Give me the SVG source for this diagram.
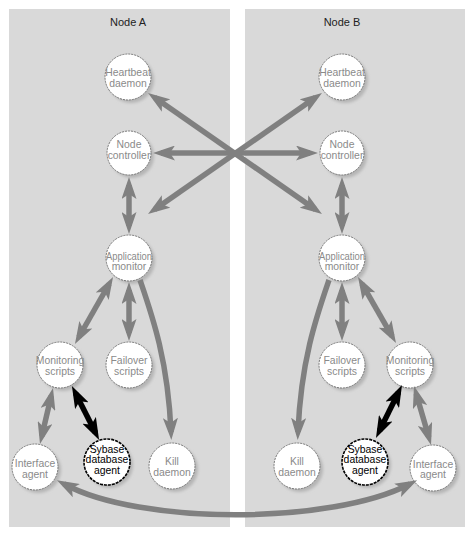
<svg xmlns="http://www.w3.org/2000/svg" width="474" height="537" viewBox="0 0 474 537">
<style>
.panel{fill:#d9d9d9}
.title{font-family:"Liberation Sans",Arial,sans-serif;font-size:11px;fill:#222;text-anchor:middle}
.lbl{font-family:"Liberation Sans",Arial,sans-serif;font-size:10.4px;fill:#8a8a8a;text-anchor:middle}
.lblk{font-family:"Liberation Sans",Arial,sans-serif;font-size:10.4px;fill:#000;text-anchor:middle}
.node{fill:#fff;stroke:#777;stroke-width:1;stroke-dasharray:2 1}
.nodek{fill:#fff;stroke:#000;stroke-width:1.6;stroke-dasharray:3 1}
.shadow{fill:#b5b5b5;filter:url(#blur)}
.c{fill:none;stroke:#808080;stroke-width:5.5;marker-end:url(#ah)}
.cd{fill:none;stroke:#808080;stroke-width:5.5;marker-start:url(#ah);marker-end:url(#ah)}
.ck{fill:none;stroke:#000;stroke-width:5.5;marker-start:url(#ahk);marker-end:url(#ahk)}
</style>
<defs>
<filter id="blur" x="-20%" y="-20%" width="140%" height="140%"><feGaussianBlur stdDeviation="1.5"/></filter>
<marker id="ah" viewBox="0 0 22 15" refX="14" refY="7.5" markerWidth="22" markerHeight="15" markerUnits="userSpaceOnUse" orient="auto-start-reverse"><path d="M0,0 L22,7.5 L0,15 L5,7.5 z" fill="#808080"/></marker>
<marker id="ahk" viewBox="0 0 22 15" refX="14" refY="7.5" markerWidth="22" markerHeight="15" markerUnits="userSpaceOnUse" orient="auto-start-reverse"><path d="M0,0 L22,7.5 L0,15 L5,7.5 z" fill="#000"/></marker>
</defs>
<rect width="474" height="537" fill="#fff"/>
<g id="panels">
<rect class="panel" x="9" y="9" width="221" height="518"/>
<rect class="panel" x="245" y="9" width="220" height="518"/>
<text class="title" x="128" y="26">Node A</text>
<text class="title" x="342" y="26">Node B</text>
</g>
<g id="heartbeat-a"><circle class="shadow" cx="131" cy="80" r="23"/><circle class="node" cx="128" cy="77" r="23"/><text class="lbl" x="128" y="75.5">Heartbeat</text><text class="lbl" x="128" y="87">daemon</text></g>
<g id="heartbeat-b"><circle class="shadow" cx="345" cy="80" r="23"/><circle class="node" cx="342" cy="77" r="23"/><text class="lbl" x="342" y="75.5">Heartbeat</text><text class="lbl" x="342" y="87">daemon</text></g>
<g id="nodectl-a"><circle class="shadow" cx="132" cy="156" r="22"/><circle class="node" cx="129" cy="153" r="22"/><text class="lbl" x="129" y="148">Node</text><text class="lbl" x="129" y="159">controller</text></g>
<g id="nodectl-b"><circle class="shadow" cx="345" cy="156" r="22"/><circle class="node" cx="342" cy="153" r="22"/><text class="lbl" x="342" y="148">Node</text><text class="lbl" x="342" y="159">controller</text></g>
<g id="appmon-a"><circle class="shadow" cx="132" cy="261" r="23"/><circle class="node" cx="129" cy="258" r="23"/><text class="lbl" x="129" y="259.5" textLength="46" lengthAdjust="spacingAndGlyphs">Application</text><text class="lbl" x="129" y="270">monitor</text></g>
<g id="appmon-b"><circle class="shadow" cx="345" cy="261" r="23"/><circle class="node" cx="342" cy="258" r="23"/><text class="lbl" x="342" y="259.5" textLength="46" lengthAdjust="spacingAndGlyphs">Application</text><text class="lbl" x="342" y="270">monitor</text></g>
<g id="monitoring-a"><circle class="shadow" cx="63" cy="368" r="23"/><circle class="node" cx="60" cy="365" r="23"/><text class="lbl" x="60" y="364">Monitoring</text><text class="lbl" x="60" y="374.5">scripts</text></g>
<g id="failover-a"><circle class="shadow" cx="132" cy="368" r="23"/><circle class="node" cx="129" cy="365" r="23"/><text class="lbl" x="129" y="364">Failover</text><text class="lbl" x="129" y="374.5">scripts</text></g>
<g id="failover-b"><circle class="shadow" cx="345" cy="368" r="23"/><circle class="node" cx="342" cy="365" r="23"/><text class="lbl" x="342" y="364">Failover</text><text class="lbl" x="342" y="374.5">scripts</text></g>
<g id="monitoring-b"><circle class="shadow" cx="413" cy="368" r="23"/><circle class="node" cx="410" cy="365" r="23"/><text class="lbl" x="410" y="364">Monitoring</text><text class="lbl" x="410" y="374.5">scripts</text></g>
<g id="interface-a"><circle class="shadow" cx="38" cy="470" r="23"/><circle class="node" cx="35" cy="467" r="23"/><text class="lbl" x="35" y="467">Interface</text><text class="lbl" x="35" y="477.5">agent</text></g>
<g id="sybase-a"><circle class="shadow" cx="110" cy="465" r="23"/><circle class="nodek" cx="107" cy="462" r="23"/><text class="lblk" x="107" y="452.5">Sybase</text><text class="lblk" x="107" y="463">database</text><text class="lblk" x="107" y="473.5">agent</text></g>
<g id="kill-a"><circle class="shadow" cx="175" cy="469" r="23"/><circle class="node" cx="172" cy="466" r="23"/><text class="lbl" x="172" y="465">Kill</text><text class="lbl" x="172" y="475.5">daemon</text></g>
<g id="kill-b"><circle class="shadow" cx="300" cy="469" r="23"/><circle class="node" cx="297" cy="466" r="23"/><text class="lbl" x="297" y="465">Kill</text><text class="lbl" x="297" y="475.5">daemon</text></g>
<g id="sybase-b"><circle class="shadow" cx="368" cy="465" r="23"/><circle class="nodek" cx="365" cy="462" r="23"/><text class="lblk" x="365" y="452.5">Sybase</text><text class="lblk" x="365" y="463">database</text><text class="lblk" x="365" y="473.5">agent</text></g>
<g id="interface-b"><circle class="shadow" cx="436" cy="471" r="23"/><circle class="node" cx="433" cy="468" r="23"/><text class="lbl" x="433" y="467.5">Interface</text><text class="lbl" x="433" y="478">agent</text></g>
<g id="connectors">
<path class="cd" d="M154.6,97.6 L315.4,209.4"/>
<path class="cd" d="M315.4,97.6 L154.6,209.4"/>
<path class="cd" d="M161,153 L310,153"/>
<path class="cd" d="M129,185 L129,226"/>
<path class="cd" d="M342,185 L342,226"/>
<path class="cd" d="M109.1,284 L78.9,337"/>
<path class="cd" d="M129,290 L129,333"/>
<path class="cd" d="M51.2,395.8 L41.8,436.2"/>
<path class="ck" d="M75.5,393.2 L95.5,432.8"/>
<path class="cd" d="M362,283.9 L392,336.1"/>
<path class="cd" d="M342,290 L342,333"/>
<path class="cd" d="M416.2,393.7 L428.8,437.3"/>
<path class="ck" d="M398.5,392.2 L379.5,430.8"/>
<path class="c" d="M140,280 C152,315 168,360 171,432"/>
<path class="c" d="M329,280 C317,315 301,360 298,432"/>
<path class="cd" d="M64,484 C140,525 330,525 410,484"/>
</g>
</svg>
